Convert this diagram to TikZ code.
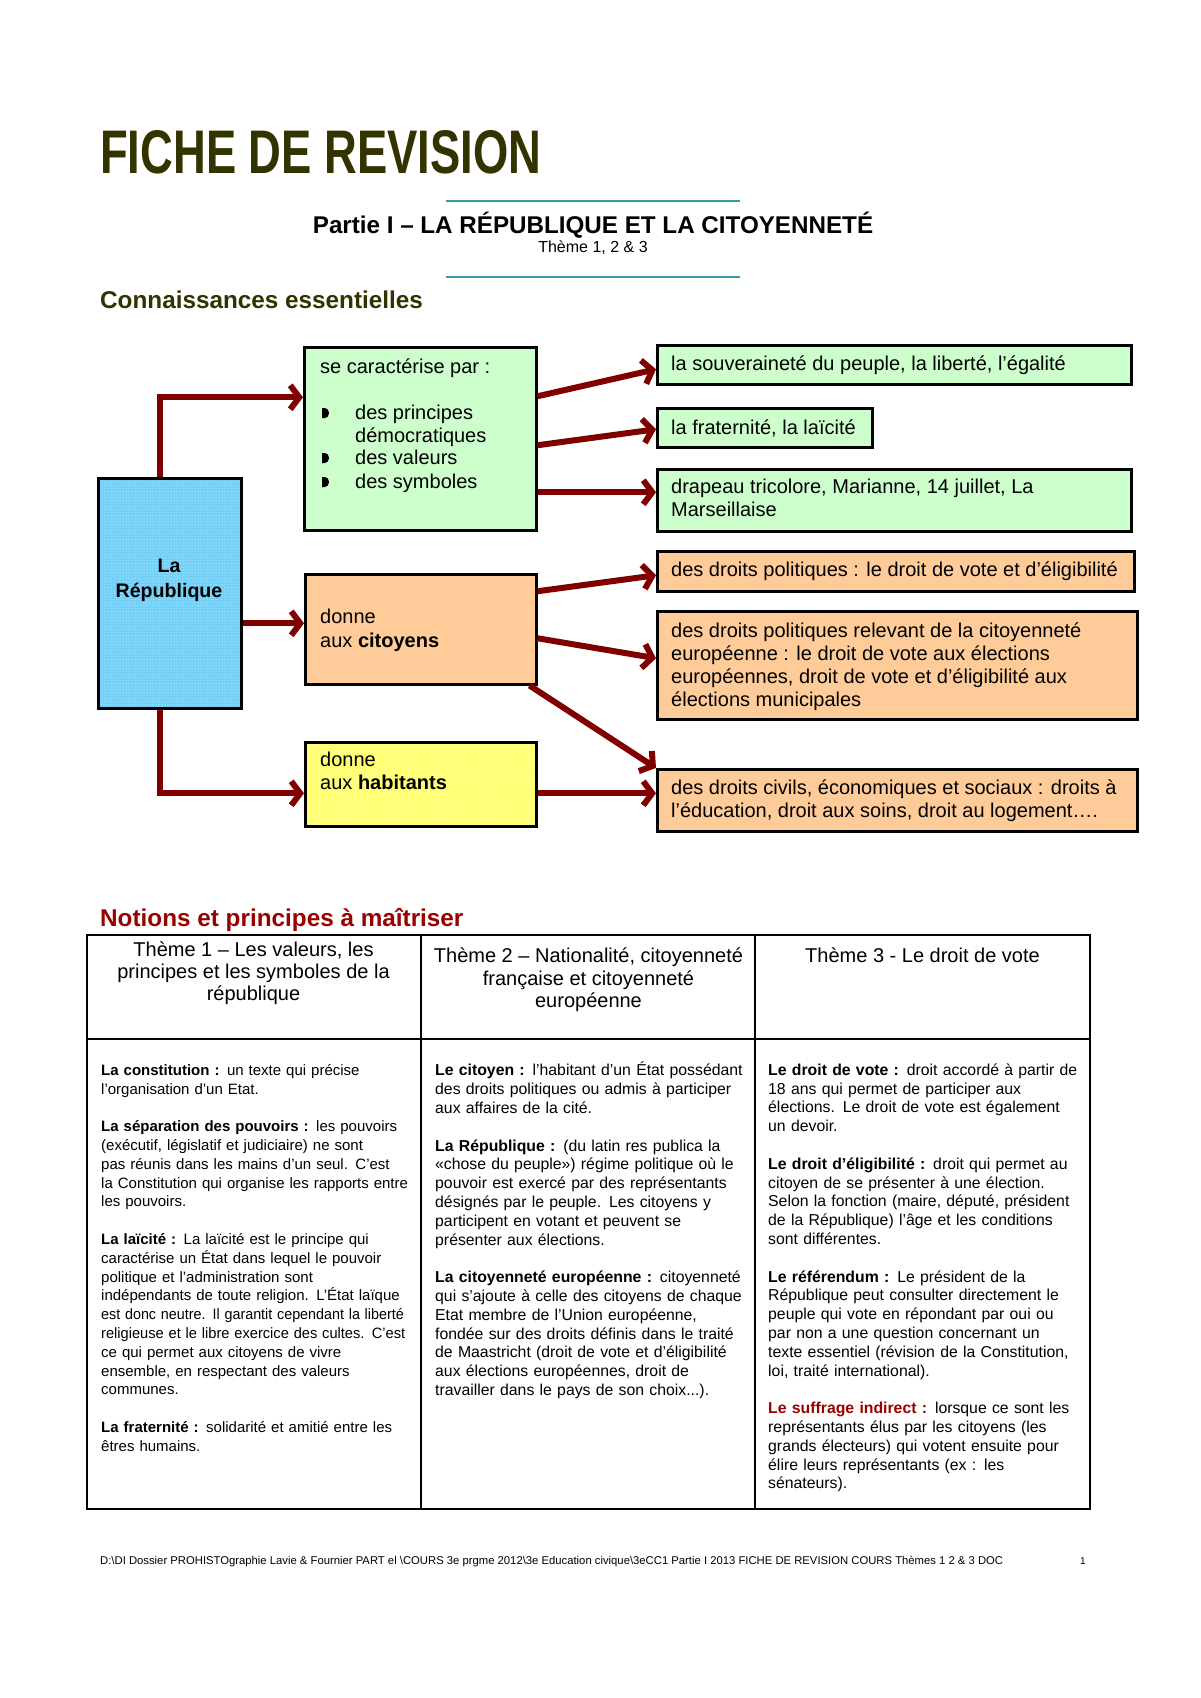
\documentclass[tikz,border=0pt]{standalone}
\usepackage{fontspec}
\setmainfont{Liberation Sans}
\usetikzlibrary{arrows.meta,patterns}
\definecolor{arrowred}{HTML}{800000}
\definecolor{boxgreen}{HTML}{CCFFCC}
\definecolor{boxorange}{HTML}{FFCC99}
\definecolor{boxblue}{HTML}{70D0F8}
\definecolor{boxyellow}{HTML}{FFFF70}
\definecolor{olivetxt}{HTML}{333300}
\definecolor{tealline}{HTML}{3A9CA3}
\definecolor{notionred}{HTML}{990000}
\tikzset{
  box/.style={draw=black, line width=2.5pt, inner sep=0, anchor=north west},
  greenbox/.style={box, fill=boxgreen},
  orangebox/.style={box, fill=boxorange},
  bluebox/.style={box, preaction={fill=boxblue}, pattern=dots, pattern color=white},
  yellowbox/.style={box, preaction={fill=boxyellow}, pattern=dots, pattern color=white},
  boxtxt/.style={font=\fontsize{20}{23}\selectfont, anchor=base west, inner sep=0},
  arr/.style={draw=arrowred, line width=6pt, line join=miter, -{Straight Barb[length=9pt,width=24pt]}},
  headtxt/.style={font=\fontsize{20}{23}\selectfont, anchor=base, inner sep=0},
  bodytxt/.style={anchor=north west, inner sep=0, text width=335pt, align=left},
  bulletmark/.style={fill=black},
}
\newcommand{\blk}{\\[18.8pt]}
\begin{document}
\begin{tikzpicture}[x=1pt,y=-1pt]
\useasboundingbox (0,0) rectangle (1200,1698);
\fill[white] (0,0) rectangle (1200,1698);

% ---------- header ----------
\node[anchor=north west, inner sep=0, text=olivetxt] (title) at (100,130)
  {\resizebox{441pt}{43pt}{\bfseries FICHE DE REVISION}};
\draw[tealline, line width=2.5pt] (446,201) -- (740,201);
\draw[tealline, line width=2.5pt] (446,277) -- (740,277);
\node[anchor=base, inner sep=0, font=\fontsize{24.2}{29}\selectfont\bfseries] (partie) at (593,233)
  {Partie I – LA RÉPUBLIQUE ET LA CITOYENNETÉ};
\node[anchor=base, inner sep=0, font=\fontsize{16}{19}\selectfont] (themes) at (593,252)
  {Thème 1, 2 \& 3};
\node[anchor=base west, inner sep=0, text=olivetxt, font=\fontsize{24.3}{28}\selectfont\bfseries] (conn) at (100,308.5)
  {Connaissances essentielles};

% ---------- boxes ----------
\node[bluebox, minimum width=143pt, minimum height=230pt] (rep) at (97,477) {};
\node[greenbox, minimum width=232pt, minimum height=183pt] (g) at (303,346) {};
\node[orangebox, minimum width=231pt, minimum height=110pt] (c) at (304,573) {};
\node[yellowbox, minimum width=231pt, minimum height=84pt] (h) at (304,741) {};
\node[greenbox, minimum width=474pt, minimum height=39pt] (r1) at (656,344) {};
\node[greenbox, minimum width=215pt, minimum height=39pt] (r2) at (656,407) {};
\node[greenbox, minimum width=474pt, minimum height=62pt] (r3) at (656,468) {};
\node[orangebox, minimum width=477pt, minimum height=40pt] (r4) at (656,550) {};
\node[orangebox, minimum width=480pt, minimum height=108pt] (r5) at (656,610) {};
\node[orangebox, minimum width=480pt, minimum height=62pt] (r6) at (656,768) {};

% ---------- box texts ----------
\node[boxtxt, anchor=base, font=\fontsize{19.6}{23}\selectfont\bfseries] (repa) at (169,572.5) {La};
\node[boxtxt, anchor=base, font=\fontsize{19.6}{23}\selectfont\bfseries] (repb) at (169,597.5) {République};

\node[boxtxt] (ga) at (320,373.5) {se caractérise par :};
\node[boxtxt] (gb) at (355,419.5) {des principes};
\node[boxtxt] (gc) at (355,442) {démocratiques};
\node[boxtxt] (gd) at (355,464.5) {des valeurs};
\node[boxtxt] (ge) at (355,488.5) {des symboles};
\foreach \yy in {413,458,482}{
  \fill[bulletmark] (322,\yy-5) -- (325,\yy-5) arc[start angle=-90, end angle=90, x radius=4, y radius=5] -- (322,\yy+5) -- cycle;
}

\node[boxtxt] (ca) at (320,623.5) {donne};
\node[boxtxt] (cb) at (320,647.5) {aux \textbf{citoyens}};
\node[boxtxt] (ha) at (320,766.5) {donne};
\node[boxtxt] (hb) at (320,789.5) {aux \textbf{habitants}};

\node[boxtxt] (t1) at (671,370.5) {la souveraineté du peuple, la liberté, l'égalité};
\node[boxtxt] (t2) at (671,434.5) {la fraternité, la laïcité};
\node[boxtxt] (t3a) at (671,493.5) {drapeau tricolore, Marianne, 14 juillet, La};
\node[boxtxt] (t3b) at (671,516.5) {Marseillaise};
\node[boxtxt] (t4) at (671,576.5) {des droits politiques : le droit de vote et d'éligibilité};
\node[boxtxt] (t5a) at (671,637.5) {des droits politiques relevant de la citoyenneté};
\node[boxtxt] (t5b) at (671,660.5) {européenne : le droit de vote aux élections};
\node[boxtxt] (t5c) at (671,683.5) {européennes, droit de vote et d'éligibilité aux};
\node[boxtxt] (t5d) at (671,706.5) {élections municipales};
\node[boxtxt] (t6a) at (671,794.5) {des droits civils, économiques et sociaux : droits à};
\node[boxtxt] (t6b) at (671,817.5) {l'éducation, droit aux soins, droit au logement….};

% ---------- arrows ----------
\draw[arr] ([xshift=-9.5pt]rep.north) |- ([yshift=41.5pt]g.west);
\draw[arr] ([yshift=-30pt]rep.east) -- ([yshift=6pt]c.west);
\draw[arr] ([xshift=-9.5pt]rep.south) |- ([yshift=-9pt]h.west);
\draw[arr] ([yshift=42.5pt]g.east) -- ([yshift=-4.5pt]r1.west);
\draw[arr] ([yshift=-6.5pt]g.east) -- ([yshift=-1.5pt]r2.west);
\draw[arr] ([yshift=-53.5pt]g.east) -- ([yshift=8pt]r3.west);
\draw[arr] ([yshift=38pt]c.east) -- ([yshift=-4pt]r4.west);
\draw[arr] ([yshift=-9pt]c.east) -- ([yshift=7pt]r5.west);
\draw[arr] ([xshift=-8pt]c.south east) -- (r6.north west);
\draw[arr] ([yshift=-9pt]h.east) -- ([yshift=7pt]r6.west);

% ---------- notions ----------
\node[anchor=base west, inner sep=0, text=notionred, font=\fontsize{24.3}{28}\selectfont\bfseries] (notions) at (100,926.5)
  {Notions et principes à maîtriser};

\draw[line width=1.4pt] (87,935) rectangle (1090,1509);
\draw[line width=1.4pt] (87,1039) -- (1090,1039);
\draw[line width=1.4pt] (421,935) -- (421,1509);
\draw[line width=1.4pt] (755,935) -- (755,1509);

\node[headtxt] (h1a) at (253.5,956.5) {Thème 1 – Les valeurs, les};
\node[headtxt] (h1b) at (253.5,978.5) {principes et les symboles de la};
\node[headtxt] (h1c) at (253.5,1000.5) {république};
\node[headtxt] (h2a) at (588.5,962.5) {Thème 2 – Nationalité, citoyenneté};
\node[headtxt] (h2b) at (588.5,985.5) {française et citoyenneté};
\node[headtxt] (h2c) at (588.5,1007.5) {européenne};
\node[headtxt] (h3a) at (922.5,962.5) {Thème 3 - Le droit de vote};

\node[bodytxt, font=\fontsize{15}{18.8}\selectfont] (b1) at (101,1062) {\strut\textbf{La constitution :} un texte qui précise\\
l'organisation d'un Etat.\blk
\textbf{La séparation des pouvoirs :} les pouvoirs\\
(exécutif, législatif et judiciaire) ne sont\\
pas réunis dans les mains d'un seul. C'est\\
la Constitution qui organise les rapports entre\\
les pouvoirs.\blk
\textbf{La laïcité :} La laïcité est le principe qui\\
caractérise un État dans lequel le pouvoir\\
politique et l'administration sont\\
indépendants de toute religion. L'État laïque\\
\scalebox{0.955}[1]{est donc neutre. Il garantit cependant la liberté}\\
\scalebox{0.975}[1]{religieuse et le libre exercice des cultes. C'est}\\
ce qui permet aux citoyens de vivre\\
ensemble, en respectant des valeurs\\
communes.\blk
\textbf{La fraternité :} solidarité et amitié entre les\\
êtres humains.};

\node[bodytxt, font=\fontsize{15.8}{18.8}\selectfont] (b2) at (435,1062) {\strut\textbf{Le citoyen :} l'habitant d'un État possédant\\
des droits politiques ou admis à participer\\
aux affaires de la cité.\blk
\textbf{La République :} (du latin res publica la\\
«chose du peuple») régime politique où le\\
pouvoir est exercé par des représentants\\
désignés par le peuple. Les citoyens y\\
participent en votant et peuvent se\\
présenter aux élections.\blk
\textbf{La citoyenneté européenne :} citoyenneté\\
qui s'ajoute à celle des citoyens de chaque\\
Etat membre de l'Union européenne,\\
fondée sur des droits définis dans le traité\\
de Maastricht (droit de vote et d'éligibilité\\
aux élections européennes, droit de\\
travailler dans le pays de son choix...).};

\node[bodytxt, font=\fontsize{15.8}{18.8}\selectfont] (b3) at (768,1062) {\strut\textbf{Le droit de vote :} droit accordé à partir de\\
18 ans qui permet de participer aux\\
élections. Le droit de vote est également\\
un devoir.\blk
\textbf{Le droit d'éligibilité :} droit qui permet au\\
citoyen de se présenter à une élection.\\
Selon la fonction (maire, député, président\\
de la République) l'âge et les conditions\\
sont différentes.\blk
\textbf{Le référendum :} Le président de la\\
République peut consulter directement le\\
peuple qui vote en répondant par oui ou\\
par non a une question concernant un\\
texte essentiel (révision de la Constitution,\\
loi, traité international).\blk
\textcolor{notionred}{\textbf{Le suffrage indirect :}} lorsque ce sont les\\
représentants élus par les citoyens (les\\
grands électeurs) qui votent ensuite pour\\
élire leurs représentants (ex : les\\
sénateurs).};

% ---------- footer ----------
\node[anchor=west, inner sep=0] (foot) at (100,1561)
  {\resizebox{903pt}{!}{\fontsize{10}{12}\selectfont D:\textbackslash DI Dossier PROHISTOgraphie Lavie \& Fournier PART el \textbackslash COURS 3e prgme 2012\textbackslash 3e Education civique\textbackslash 3eCC1 Partie I 2013 FICHE DE REVISION COURS Thèmes 1 2 \& 3 DOC}};
\node[anchor=center, inner sep=0, font=\fontsize{10}{12}\selectfont] (pagenum) at (1083,1561) {1};
\end{tikzpicture}
\end{document}
